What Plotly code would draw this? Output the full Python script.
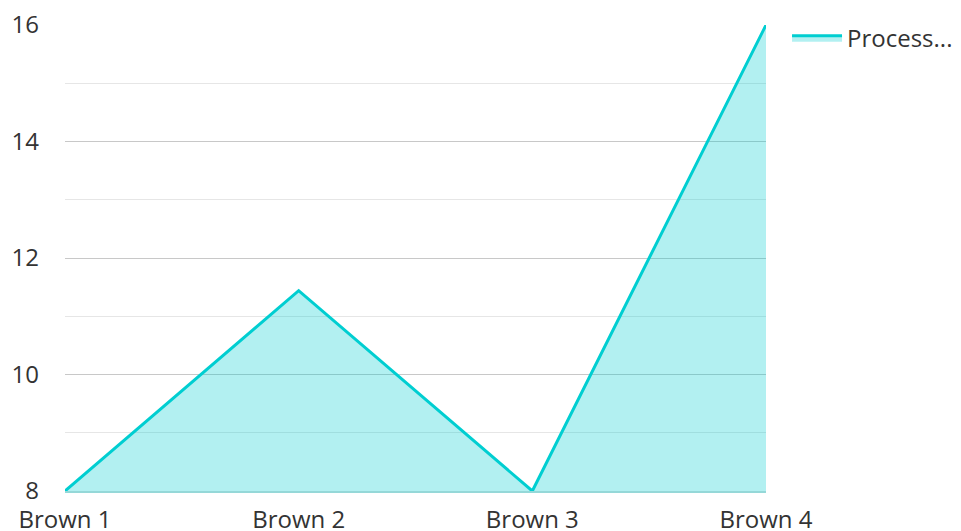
import plotly.graph_objects as go

categories = ["Brown 1", "Brown 2", "Brown 3", "Brown 4"]
values = [8, 11.44, 8, 16]
series_name = "Process..."
y_ticks = [8, 10, 12, 14, 16]

fig = go.Figure()
fig.add_trace(go.Scatter(
    x=categories, y=values, name=series_name, mode="lines",
    line=dict(color="#00CED1", width=3),
    fill="tozeroy", fillcolor="rgba(0,206,209,0.3)",
    showlegend=True, cliponaxis=False,
))
fig.update_layout(
    width=961, height=531,
    margin=dict(l=65, r=195, t=25, b=40, autoexpand=False),
    paper_bgcolor="white", plot_bgcolor="white",
    font=dict(family="Open Sans", size=24, color="#333333"),
    xaxis=dict(showgrid=False, showline=True, linecolor="#95d8d8", linewidth=2,
               zeroline=False, ticks="", automargin=False,
               range=[0, 3], tickfont=dict(size=24), ticklabelstandoff=6),
    yaxis=dict(range=[8, 16], tickvals=y_ticks, showgrid=True, gridcolor="#c8c8c8",
               gridwidth=1, zeroline=False, showline=False, ticks="", automargin=False,
               tickfont=dict(size=24), ticklabelstandoff=25,
               minor=dict(dtick=1, showgrid=True, gridcolor="#e6e6e6", gridwidth=1)),
    legend=dict(x=1.03, y=1.02, xanchor="left", yanchor="top", font=dict(size=24),
                itemwidth=50, bgcolor="rgba(0,0,0,0)"),
)
fig.write_html("out.html")
